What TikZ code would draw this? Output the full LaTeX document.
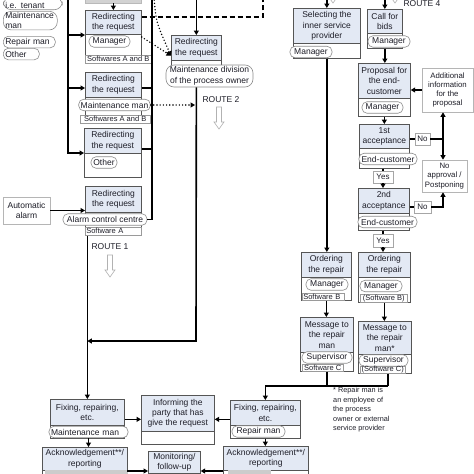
\documentclass[tikz,border=0pt]{standalone}
\usepackage{fontspec}
\setmainfont{Liberation Sans}
\usetikzlibrary{arrows.meta,calc}
\definecolor{hdrfill}{HTML}{E3E9F4}
\definecolor{boxc}{HTML}{555555}
\definecolor{pillc}{HTML}{8C8C8C}
\definecolor{swc}{HTML}{9A9A9A}
\definecolor{sidec}{HTML}{B5B5B5}
\definecolor{txt}{HTML}{1E1E28}
\newcommand\fsA{\fontsize{8.5}{10.4}\selectfont}
\newcommand\fsB{\fontsize{7.5}{8}\selectfont}
\newcommand\fsC{\fontsize{7.8}{9.2}\selectfont}
\newcommand\fsD{\fontsize{7.3}{9.6}\selectfont}
\tikzset{
 hdrbox/.style={draw=boxc, fill=hdrfill, line width=0.7pt, text=txt, font=\fsA, align=center, inner sep=0pt, anchor=north west},
 lowbox/.style={draw=boxc, fill=white, line width=0.7pt, inner sep=0pt, anchor=north west},
 pill/.style={draw=pillc, fill=white, line width=0.6pt, rounded corners=5pt, text=txt, font=\fsA, inner xsep=2pt, inner ysep=0pt, minimum height=11.5pt},
 swlab/.style={draw=swc, fill=white, line width=0.5pt, text=txt, font=\fsB, inner sep=0pt, minimum height=8pt, anchor=north west},
 sidebox/.style={draw=sidec, fill=white, line width=0.6pt, text=txt, align=center, inner sep=0pt},
 yn/.style={draw=gray!70, fill=white, line width=0.5pt, text=txt, font=\fontsize{8}{9}\selectfont, inner sep=0pt},
 conn/.style={line width=1.6pt, black, -{Triangle[length=4.5pt,width=5pt]}},
 plainln/.style={line width=1.6pt, black},
 dashln/.style={line width=1.6pt, black, dash pattern=on 5pt off 3pt},
 dotconn/.style={line width=1.6pt, black, dash pattern=on 0pt off 3.2pt, line cap=round, -{Triangle[length=4.5pt,width=5pt]}},
 hollowarrow/.style={draw=gray!60, fill=white, line width=0.6pt},
 routelab/.style={text=txt, font=\fsA, inner sep=0pt},
}
\newcommand\procbox[7]{%
  \node[lowbox, minimum width=#4pt, minimum height=#6pt] (#1-l) at (#2,#3+#5) {};
  \node[hdrbox, minimum width=#4pt, minimum height=#5pt] (#1) at (#2,#3) {#7};
}
\newcommand\hollowarr[3]{%
  \draw[hollowarrow] (#1-2.5,#2) -- (#1+2.5,#2) -- (#1+2.5,#3-7) -- (#1+5,#3-7) -- (#1,#3) -- (#1-5,#3-7) -- (#1-2.5,#3-7) -- cycle;}
\begin{document}
\begin{tikzpicture}[x=1pt,y=-1pt]
\useasboundingbox (0,0) rectangle (474,474);
\fill[white] (0,0) rectangle (474,474);
\clip (0,0) rectangle (474,474);

% ---- left column pills
\node[pill, rounded corners=8pt, anchor=south west, text width=55pt, align=left, inner ysep=1pt] (ptenant) at (3,10) {\mbox{}\\i.e. tenant};
\node[pill, rounded corners=8pt, anchor=north west, text width=50pt, align=left, inner ysep=1pt] (pmaint) at (3,11) {Maintenance\\man};
\node[pill, anchor=north west, text width=48pt, align=left] (prepair) at (3,36) {Repair man};
\node[pill, anchor=north west, text width=32pt, align=left] (pother) at (3,48) {Other};

% ---- left boxes
\node[swlab, fill=gray!35, draw=gray!55, minimum width=56pt, anchor=south west] (b0) at (85,3) {};
\procbox{b1}{85}{10}{56}{24}{21}{Redirecting\\the request}
\node[pill, minimum width=41pt] (b1p) at (109.5,41.5) {Manager};
\node[swlab, minimum width=66pt] (b1s) at (85,55) {Softwares A and B};

\procbox{b2}{85}{72}{56}{25}{18}{Redirecting\\the request}
\node[pill, minimum width=71pt] (b2p) at (114.5,105) {Maintenance man};
\node[swlab, minimum width=70pt] (b2s) at (80,115) {Softwares A and B};

\procbox{b3}{84}{128}{57}{25}{24}{Redirecting\\the request}
\node[pill, minimum width=26pt] (b3p) at (104,162.5) {Other};

\procbox{b4}{85}{186}{56}{26}{15}{Redirecting\\the request}
\node[pill, minimum width=84pt] (b4p) at (105,219.5) {Alarm control centre};
\node[swlab, text width=54pt, align=left, inner xsep=1pt] (b4s) at (85,227) {Software A};

\node[sidebox, font=\fsA, minimum width=47pt, minimum height=27pt] (alarm) at (26.5,210.5) {Automatic\\alarm};

% ---- route 2
\procbox{r2}{171}{35}{50}{25}{8}{Redirecting\\the request}
\node[pill, rounded corners=8pt, minimum width=87pt, minimum height=22pt, align=center] (r2p) at (209.5,76) {Maintenance division\\of the process owner};
\node[routelab] (rt2) at (221,100) {ROUTE 2};
\hollowarr{219}{107}{129}
\node[routelab] (rt1) at (110,247) {ROUTE 1};
\hollowarr{110}{255}{277}

% ---- right part
\procbox{sel}{293}{8}{67}{35}{15}{Selecting the\\inner service\\provider}
\node[pill, minimum width=42pt] (selp) at (311,52) {Manager};
\hollowarr{333}{-20}{3}
\hollowarr{395}{-20}{3}
\node[routelab] (rt4) at (422,4) {ROUTE 4};

\procbox{cfb}{367}{9}{35}{24}{15}{Call for\\bids}
\node[pill, minimum width=42pt] (cfbp) at (389,41.5) {Manager};

\procbox{prop}{358}{63}{52}{35}{18}{Proposal for\\the end-\\customer}
\node[pill, minimum width=41pt] (propp) at (382.5,107.5) {Manager};
\node[sidebox, font=\fsC, minimum width=51pt, minimum height=44pt] (addi) at (447.5,90) {Additional\\information\\for the\\proposal};

\procbox{acc1}{359}{124}{50}{24}{20}{1st\\acceptance}
\node[pill, minimum width=58pt] (acc1p) at (388,159) {End-customer};
\node[yn, minimum width=15pt, minimum height=12pt] (no1) at (422.5,139) {No};
\node[sidebox, font=\fsC, minimum width=45pt, minimum height=32pt] (noap) at (444.5,176) {No\\approval /\\Postponing};
\node[yn, minimum width=20pt, minimum height=12pt] (yes1) at (383,177) {Yes};

\procbox{acc2}{358}{188}{51}{25}{17}{2nd\\acceptance}
\node[pill, minimum width=59pt] (acc2p) at (387.5,222) {End-customer};
\node[yn, minimum width=17pt, minimum height=12pt] (no2) at (422.5,207) {No};
\node[yn, minimum width=20pt, minimum height=13pt] (yes2) at (383,240.5) {Yes};

\procbox{ordL}{301}{252}{50}{25}{23}{Ordering\\the repair}
\node[pill, minimum width=42pt] (ordLp) at (327,284.5) {Manager};
\node[swlab, minimum height=7.5pt, text width=40pt, align=left, inner xsep=1pt] (ordLs) at (302,292.5) {Software B};

\procbox{ordR}{358}{252}{52}{25}{25}{Ordering\\the repair}
\node[pill, minimum width=42pt] (ordRp) at (381,286) {Manager};
\node[swlab, minimum width=47pt] (ordRs) at (360,294) {(Software B)};

\procbox{msgL}{300}{317}{53}{35}{19}{Message to\\the repair\\man}
\node[pill, minimum width=50pt] (msgLp) at (327,357.5) {Supervisor};
\node[swlab, minimum width=41pt, minimum height=7.5pt] (msgLs) at (302,363.5) {Software C};

\procbox{msgR}{358}{321}{53}{33}{19}{Message to\\the repair\\man*}
\node[pill, minimum width=49pt] (msgRp) at (383.5,360.5) {Supervisor};
\node[swlab, minimum width=45pt, minimum height=7.5pt] (msgRs) at (360,365.5) {(Software C)};

\node[anchor=north west, text=txt, font=\fsD, align=left, inner sep=0pt] (fnote) at (333,387) {* Repair man is\\an employee of\\the process\\owner or external\\service provider};

% ---- bottom
\procbox{lfix}{50}{399}{74}{26}{13}{Fixing, repairing,\\etc.}
\node[pill, text width=75pt, align=left] (lfixp) at (88.5,432) {Maintenance man};
\procbox{inf}{141}{395}{73}{36}{13}{Informing the\\party that has\\give the request}
\procbox{rfix}{230}{400}{70}{25}{13}{Fixing, repairing,\\etc.}
\node[pill, minimum width=53pt] (rfixp) at (258.5,431.5) {Repair man};
\procbox{lack}{42}{447}{85}{23}{12}{Acknowledgement**/\\reporting}
\node[swlab, fill=gray!40, draw=gray!40, minimum width=82pt, minimum height=6pt] (lacks) at (45,470) {};
\procbox{mon}{148}{451}{52}{22}{10}{Monitoring/\\follow-up}
\procbox{rack}{223}{446}{85}{24}{12}{Acknowledgement**/\\reporting}
\node[swlab, fill=gray!40, draw=gray!40, minimum width=42pt, minimum height=6pt] (racks) at (228,470) {};

% ---- connectors, left
\coordinate (Ltop) at (68,-5);
\coordinate (L1) at (68,35);
\coordinate (L2) at (68,88);
\draw[conn] (Ltop) |- (b3-l.north west);
\draw[conn] (L1) -- (L1 -| b1.west);
\draw[conn] (L2) -- (L2 -| b2.west);
\draw[conn] (b0.south -| b1.north) -- (b1.north);

\coordinate (Ctop) at (152,-5);
\coordinate (C2) at (152,88);
\coordinate (C3) at (152,149);
\draw[plainln] (Ctop) |- (b4p.east);
\draw[plainln] (C2 -| b2.east) -- (C2);
\draw[plainln] (C3 -| b3.east) -- (C3);

\coordinate (Dtop) at (263,-5);
\coordinate (D1) at (263,17);
\draw[dashln] (D1 -| b1.east) -- (D1) -- (Dtop);

\coordinate (Ptop) at (154,-3);
\coordinate (Pend) at ($(r2.south west)+(0,-5)$);
\draw[dotconn] (Ptop) .. controls (156,22) .. (Pend);
\draw[dotconn] ([yshift=-3pt]b1-l.north east) -- (Pend);

\coordinate (R2top) at (196,-5);
\coordinate (R2a) at (195,105);
\coordinate (R2c) at (196,341);
\draw[dotconn] (b2p.east) -- (b2p.east -| R2a);
\draw[conn] (R2top -| r2.north) -- (r2.north);
\draw[conn] (r2p.south -| r2.south) -- (R2c) -- (R2c -| lfix.north);

\draw[conn] (b4s.south -| lfix.north) -- (lfix.north);
\draw[conn] (alarm.east) -- (alarm.east -| b4.west);

% ---- connectors, bottom
\draw[conn] ([yshift=-7pt]lfix.east) -- ([yshift=-7pt]lfix.east -| inf.west);
\draw[conn] ([yshift=-6.5pt]rfix.west) -- ([yshift=-6.5pt]rfix.west -| inf.east);
\draw[conn] (lfixp.south) -- (lfixp.south |- lack.north);
\draw[conn] (rfix-l.south) -- (rfix-l.south |- rack.north);
\coordinate (M1) at (127,471);
\coordinate (M2) at (223,471);
\draw[conn] (M1) -- (M1 -| mon.west);
\draw[conn] (M2) -- (M2 -| mon.east);

% ---- connectors, right
\coordinate (T3) at (327,-5);
\draw[conn] (T3 -| sel.north) -- (sel.north);
\draw[conn] (sel-l.south) -- (sel-l.south |- ordL.north);
\draw[conn] (T3 -| cfb.north) -- (cfb.north);
\draw[conn] (cfb-l.south) -- (cfb-l.south |- prop.north);
\draw[conn] (addi.west) -- (addi.west -| prop.east);
\draw[conn] (prop-l.south) -- (prop-l.south |- acc1.north);
\coordinate (N1) at (443,139);
\draw[plainln] (no1.west -| acc1.east) -- (no1.west);
\draw[plainln] (no1.east) -- (N1);
\draw[conn] (N1) -- (N1 |- addi.south);
\draw[conn] (N1) -- (N1 |- noap.north);
\draw[plainln] (yes1.north |- acc1-l.south) -- (yes1.north);
\draw[conn] (yes1.south) -- (yes1.south |- acc2.north);
\coordinate (N2) at (443,207);
\draw[plainln] (no2.west -| acc2.east) -- (no2.west);
\draw[conn] (no2.east) -- (N2) -- (N2 |- noap.south);
\draw[plainln] (yes2.north |- acc2-l.south) -- (yes2.north);
\draw[conn] (yes2.south) -- (yes2.south |- ordR.north);
\draw[conn] (ordL-l.south) -- (ordL-l.south |- msgL.north);
\draw[conn] (ordR-l.south) -- (ordR-l.south |- msgR.north);
\coordinate (J) at (388,386);
\draw[plainln] (msgL-l.south) -- (msgL-l.south |- J);
\draw[plainln] (J |- msgR-l.south) -- (J);
\draw[conn] (J) -- (J -| rfix.north) -- (rfix.north);
\end{tikzpicture}
\end{document}
